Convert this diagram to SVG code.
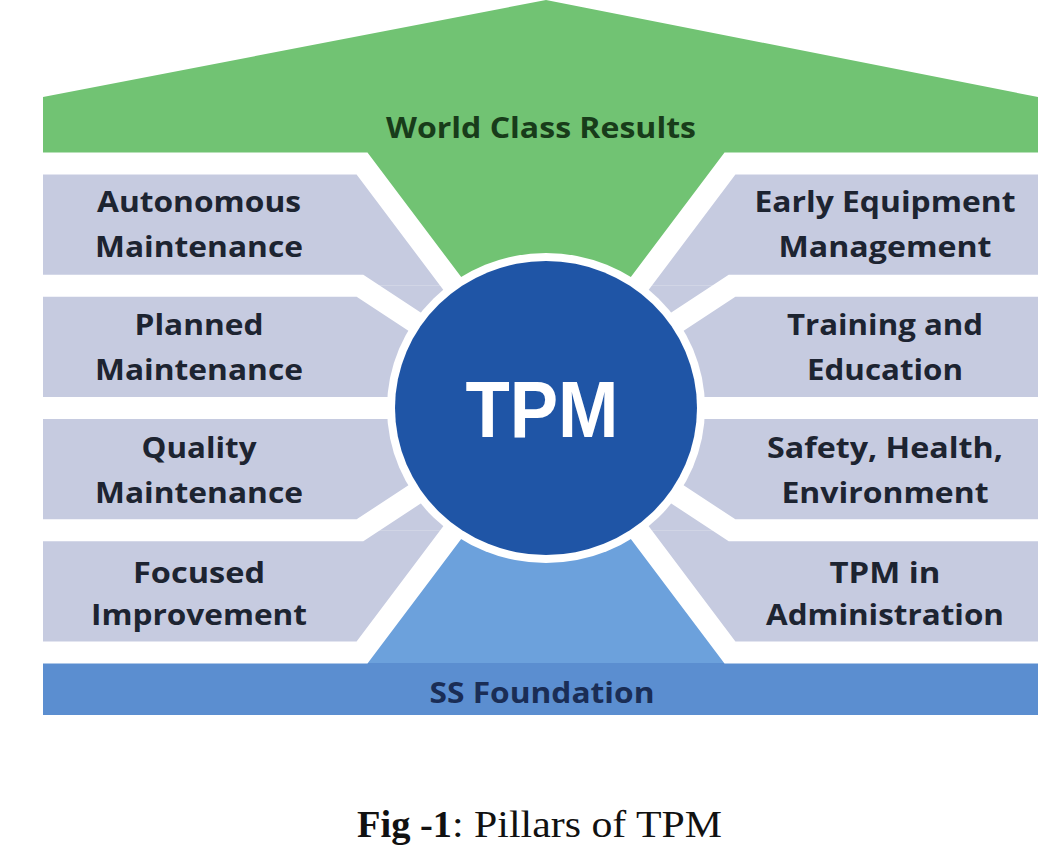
<svg xmlns="http://www.w3.org/2000/svg" width="1060" height="845" viewBox="0 0 1060 845">
<style>
.pillar{fill:#c6cbe0}
.lbl{font-family:"Open Sans","Liberation Sans",sans-serif;font-weight:bold;font-size:29px;fill:#1d2431;text-anchor:middle}
.sep{fill:none;stroke:#ffffff;stroke-width:22;stroke-linejoin:miter}
</style>
<rect width="1060" height="845" fill="#ffffff"/>
<g id="pillar-autonomous"><rect class="pillar" x="43" y="163.5" width="503" height="122.25"/>
<text class="lbl" x="199" y="212" textLength="204" lengthAdjust="spacingAndGlyphs">Autonomous</text>
<text class="lbl" x="199" y="257" textLength="208" lengthAdjust="spacingAndGlyphs">Maintenance</text></g>
<g id="pillar-planned"><rect class="pillar" x="43" y="285.75" width="503" height="122.25"/>
<text class="lbl" x="199" y="335" textLength="129" lengthAdjust="spacingAndGlyphs">Planned</text>
<text class="lbl" x="199" y="380" textLength="208" lengthAdjust="spacingAndGlyphs">Maintenance</text></g>
<g id="pillar-quality"><rect class="pillar" x="43" y="408" width="503" height="122.25"/>
<text class="lbl" x="199" y="458" textLength="115" lengthAdjust="spacingAndGlyphs">Quality</text>
<text class="lbl" x="199" y="503" textLength="208" lengthAdjust="spacingAndGlyphs">Maintenance</text></g>
<g id="pillar-focused"><rect class="pillar" x="43" y="530.25" width="503" height="122.25"/>
<text class="lbl" x="199" y="583" textLength="132" lengthAdjust="spacingAndGlyphs">Focused</text>
<text class="lbl" x="199" y="625" textLength="216" lengthAdjust="spacingAndGlyphs">Improvement</text></g>
<g id="pillar-early"><rect class="pillar" x="546" y="163.5" width="492" height="122.25"/>
<text class="lbl" x="885" y="212" textLength="261" lengthAdjust="spacingAndGlyphs">Early Equipment</text>
<text class="lbl" x="885" y="257" textLength="213" lengthAdjust="spacingAndGlyphs">Management</text></g>
<g id="pillar-training"><rect class="pillar" x="546" y="285.75" width="492" height="122.25"/>
<text class="lbl" x="885" y="335" textLength="196" lengthAdjust="spacingAndGlyphs">Training and</text>
<text class="lbl" x="885" y="380" textLength="156" lengthAdjust="spacingAndGlyphs">Education</text></g>
<g id="pillar-safety"><rect class="pillar" x="546" y="408" width="492" height="122.25"/>
<text class="lbl" x="885" y="458" textLength="236" lengthAdjust="spacingAndGlyphs">Safety, Health,</text>
<text class="lbl" x="885" y="503" textLength="207" lengthAdjust="spacingAndGlyphs">Environment</text></g>
<g id="pillar-admin"><rect class="pillar" x="546" y="530.25" width="492" height="122.25"/>
<text class="lbl" x="885" y="583" textLength="111" lengthAdjust="spacingAndGlyphs">TPM in</text>
<text class="lbl" x="885" y="625" textLength="238" lengthAdjust="spacingAndGlyphs">Administration</text></g>
<g id="roof">
<polygon points="43,97 546,0 1038,97 1038,163.5 730,163.5 546,408 362,163.5 43,163.5" fill="#71c373"/>
<text class="lbl" x="541" y="138" textLength="310" lengthAdjust="spacingAndGlyphs" style="fill:#183c1a">World Class Results</text>
</g>
<g id="foundation">
<polygon points="43,652.5 362,652.5 546,408 730,652.5 1038,652.5 1038,715 43,715" fill="#6ca1dc"/>
<rect x="43" y="663" width="995" height="52" fill="#5b8ed0"/>
</g>
<g id="connectors">
<path class="sep" d="M43,163.5 H362 L546,408 L730,163.5 H1038"/>
<path class="sep" d="M43,285.75 H360 L546,408 L732,285.75 H1038"/>
<path class="sep" d="M43,408 H1038"/>
<path class="sep" d="M43,530.25 H360 L546,408 L732,530.25 H1038"/>
<path class="sep" d="M43,652.5 H362 L546,408 L730,652.5 H1038"/>
</g>
<text x="542" y="703" font-family="'Open Sans','Liberation Sans',sans-serif" font-weight="bold" font-size="29" fill="#1a2d55" text-anchor="middle" textLength="225" lengthAdjust="spacingAndGlyphs">SS Foundation</text>
<g id="tpm">
<ellipse cx="546" cy="408" rx="159" ry="155" fill="#ffffff"/>
<ellipse cx="546" cy="408" rx="151" ry="147" fill="#1f55a6"/>
<text x="542" y="437" font-family="'Liberation Sans',Arial,sans-serif" font-weight="bold" font-size="80" fill="#ffffff" text-anchor="middle" textLength="153" lengthAdjust="spacingAndGlyphs">TPM</text>
</g>
<g id="caption" font-family="'Liberation Serif','Times New Roman',serif" font-size="38" fill="#111111">
<text x="357" y="837" font-weight="bold" textLength="95" lengthAdjust="spacingAndGlyphs">Fig -1</text>
<text x="452" y="837" textLength="270" lengthAdjust="spacingAndGlyphs">: Pillars of TPM</text>
</g>
</svg>
